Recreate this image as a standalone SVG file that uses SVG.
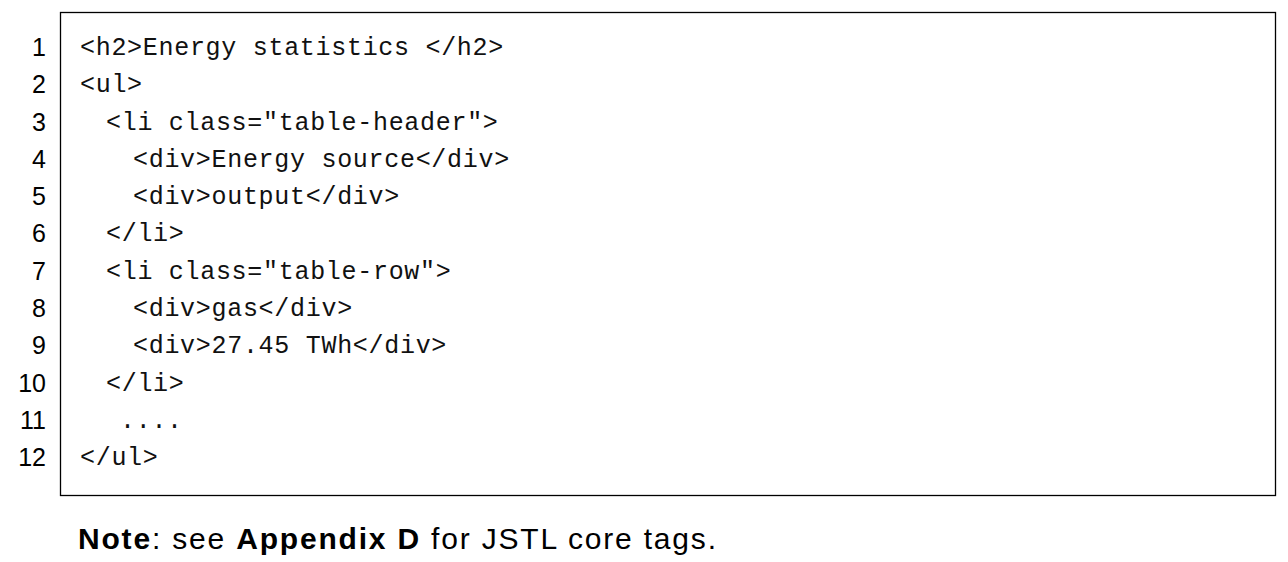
<svg xmlns="http://www.w3.org/2000/svg" width="1288" height="562" viewBox="0 0 1288 562">
<style>
.n{font-family:"Liberation Sans",Arial,sans-serif;font-size:25px;fill:#000;text-anchor:end}
.c{font-family:"Liberation Mono","DejaVu Sans Mono",monospace;font-size:25px;fill:#111;letter-spacing:0.7px}
.t{font-family:"Liberation Sans",Arial,sans-serif;font-size:30px;fill:#000}
</style>
<rect width="1288" height="562" fill="#fff"/>
<g id="listing">
<rect x="60.5" y="12.5" width="1215" height="483" fill="#fff" stroke="#000" stroke-width="1.3"/>
<g id="numbers">
<text class="n" x="46" y="56">1</text>
<text class="n" x="46" y="93">2</text>
<text class="n" x="46" y="131">3</text>
<text class="n" x="46" y="168">4</text>
<text class="n" x="46" y="205">5</text>
<text class="n" x="46" y="242">6</text>
<text class="n" x="46" y="280">7</text>
<text class="n" x="46" y="317">8</text>
<text class="n" x="46" y="354">9</text>
<text class="n" x="46" y="392">10</text>
<text class="n" x="46" y="429">11</text>
<text class="n" x="46" y="466">12</text>
</g>
<g id="code">
<text class="c" x="80" y="55">&lt;h2&gt;Energy statistics &lt;/h2&gt;</text>
<text class="c" x="80" y="92">&lt;ul&gt;</text>
<text class="c" x="106" y="130">&lt;li class="table-header"&gt;</text>
<text class="c" x="133" y="167">&lt;div&gt;Energy source&lt;/div&gt;</text>
<text class="c" x="133" y="204">&lt;div&gt;output&lt;/div&gt;</text>
<text class="c" x="106" y="241">&lt;/li&gt;</text>
<text class="c" x="106" y="279">&lt;li class="table-row"&gt;</text>
<text class="c" x="133" y="316">&lt;div&gt;gas&lt;/div&gt;</text>
<text class="c" x="133" y="353">&lt;div&gt;27.45 TWh&lt;/div&gt;</text>
<text class="c" x="106" y="391">&lt;/li&gt;</text>
<text class="c" x="120" y="428">....</text>
<text class="c" x="80" y="465">&lt;/ul&gt;</text>
</g>
</g>
<text id="note" class="t" x="78" y="549" textLength="638" lengthAdjust="spacing"><tspan font-weight="bold">Note</tspan>: see <tspan font-weight="bold">Appendix D</tspan> for JSTL core tags.</text>
</svg>
